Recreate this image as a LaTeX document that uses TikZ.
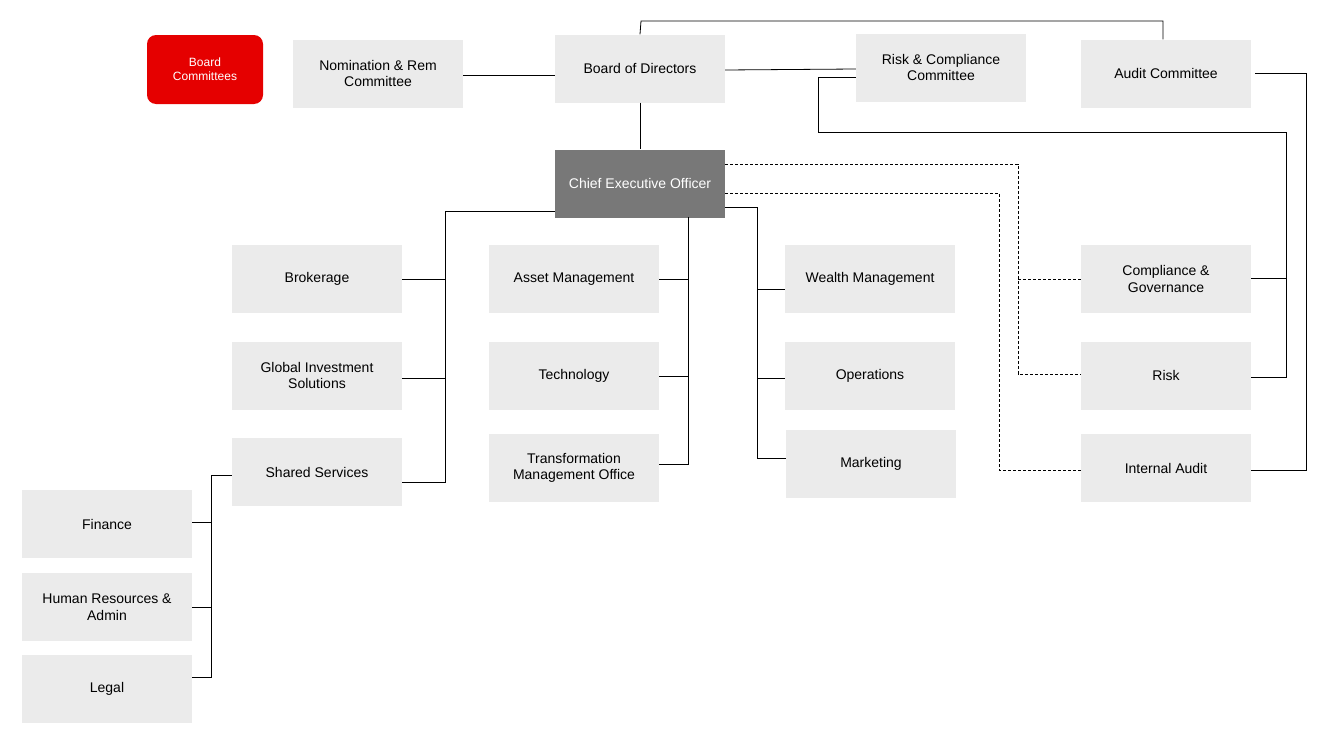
\documentclass[tikz,border=0pt]{standalone}
\usepackage{fontspec}
\setmainfont{Liberation Sans}
\begin{document}
\begin{tikzpicture}[x=1pt,y=-1pt,
 bx/.style={fill=black!8,draw=none,minimum width=170pt,minimum height=68pt,align=center,font=\fontsize{14}{16.5}\selectfont,inner sep=0pt},
 ln/.style={draw=black,line width=0.8pt},
 dl/.style={ln,dashed,dash pattern=on 3pt off 2pt}]
\useasboundingbox (0,0) rectangle (1325,744);
\def\B#1#2#3#4#5{\node[bx] (#1) at (#2,#3) {#4#5};}
\node[fill=red!90!black,rounded corners=9pt,minimum width=116pt,minimum height=69pt,align=center,text=white,font=\fontsize{12}{14}\selectfont] (bc) at (205,69.5) {Board\\Committees};
\node[bx] (nom) at (378,73.5) {Nomination \& Rem\\Committee};
\node[bx] (bod) at (640,68.5) {Board of Directors};
\node[bx] (rcc) at (941,67.5) {Risk \& Compliance\\Committee};
\node[bx] (ac) at (1166,73.5) {Audit Committee};
\node[bx,fill=black!53,text=white] (ceo) at (640,183.5) {Chief Executive Officer};
\node[bx] (bro) at (317,279) {Brokerage};
\node[bx] (gis) at (317,375.5) {Global Investment\\Solutions};
\node[bx] (ss) at (317,472) {Shared Services};
\node[bx] (am) at (574,279) {Asset Management};
\node[bx] (tec) at (574,375.5) {Technology};
\node[bx] (tmo) at (574,468) {Transformation\\Management Office};
\node[bx] (wm) at (870,279) {Wealth Management};
\node[bx] (ops) at (870,375.5) {Operations};
\node[bx] (mkt) at (871,464) {Marketing};
\node[bx] (cg) at (1166,279) {Compliance \&\\Governance};
\node[bx] (risk) at (1166,375.5) {Risk};
\node[bx] (ia) at (1166,468) {Internal Audit};
\node[bx] (fin) at (107,524) {Finance};
\node[bx] (hr) at (107,607) {Human Resources \&\\Admin};
\node[bx] (leg) at (107,689) {Legal};
% board level
\draw[ln] (nom.east |- 0,75) -- (bod.west |- 0,75);
\draw[ln] (bod.east |- 0,70) -- (rcc.west |- 0,69);
\draw[ln] (bod.north) -- (641,21) -- (1163,21) -- (ac.north -| 1163,0);
\draw[ln] (bod.south) -- (ceo.north);
\draw[ln] (rcc.west |- 0,77) -- (818,77) -- (818,132) -- (1286,132) -- (1286,377) -- (risk.east |- 0,377);
\draw[ln] (cg.east |- 0,278) -- (1286,278);
\draw[ln] (ac.east) ++(4,0) -- (1306,73.5) -- (1306,470) -- (ia.east |- 0,470);
% dashed
\draw[dl] (ceo.east |- 0,164) -- (1018,164) -- (1018,374) -- (risk.west |- 0,374);
\draw[dl] (1018,279) -- (cg.west);
\draw[dl] (ceo.east |- 0,193) -- (999,193) -- (999,470) -- (ia.west |- 0,470);
% left branch
\draw[ln] (ceo.west |- 0,211) -- (445,211) -- (445,482) -- (ss.east |- 0,482);
\draw[ln] (445,279) -- (bro.east);
\draw[ln] (445,378) -- (gis.east |- 0,378);
% middle
\draw[ln] (688,217) -- (688,464) -- (tmo.east |- 0,464);
\draw[ln] (688,279) -- (am.east);
\draw[ln] (688,376) -- (tec.east |- 0,376);
% right
\draw[ln] (ceo.east |- 0,207) -- (757,207) -- (757,458) -- (mkt.west |- 0,458);
\draw[ln] (757,289) -- (wm.west |- 0,289);
\draw[ln] (757,378) -- (ops.west |- 0,378);
% shared services
\draw[ln] (ss.west |- 0,475) -- (211,475) -- (211,677) -- (leg.east |- 0,677);
\draw[ln] (211,522) -- (fin.east |- 0,522);
\draw[ln] (211,607) -- (hr.east |- 0,607);
\end{tikzpicture}
\end{document}
